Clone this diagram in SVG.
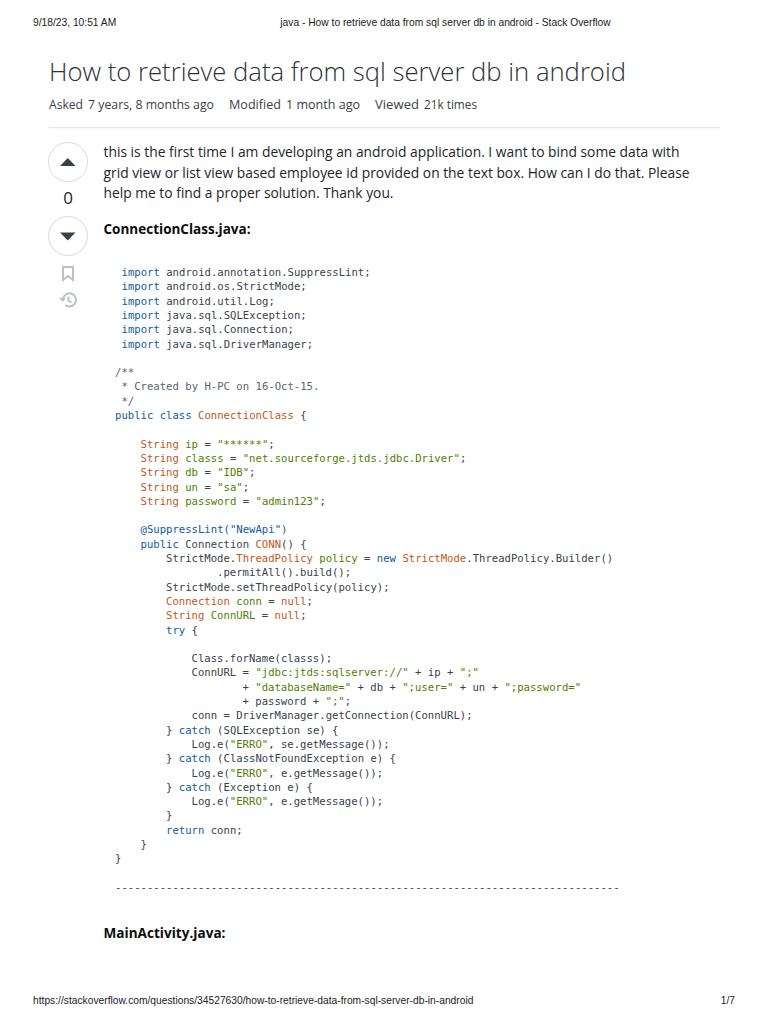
<svg xmlns="http://www.w3.org/2000/svg" width="768" height="1024" viewBox="0 0 768 1024">
<style>
.hf{font:10.25px "Liberation Sans",Arial,sans-serif;fill:#222}
.ui{font-family:"Open Sans","Noto Sans",sans-serif}
.title{font-size:25.6px;font-weight:300;fill:#2d3236}
.meta{font-size:12.6px;fill:#3b4045}
.body{font-size:13.6px;fill:#232629}
.bold{font-size:13.8px;font-weight:700;fill:#0c0d0e}
.c{font-family:"DejaVu Sans Mono","Liberation Mono",monospace;font-size:10.62px;fill:#39424a;white-space:pre}
.k{fill:#0f5c9e}.t{fill:#c2571a}.s{fill:#4f7f00}.n{fill:#39424a}.a{fill:#5a6570}
.ring{fill:#fff;stroke:#d6d9dc;stroke-width:1}
.ic{fill:#3b4045}
.g{fill:none;stroke:#bbc0c4;stroke-width:2}
</style>
<rect width="768" height="1024" fill="#fff"/>
<g id="page-header">
<text class="hf" x="33" y="26">9/18/23, 10:51 AM</text>
<text class="hf" x="445.500" y="26" text-anchor="middle">java - How to retrieve data from sql server db in android - Stack Overflow</text>
</g>
<g id="question-head">
<text class="ui title" x="49" y="81" textLength="577" lengthAdjust="spacingAndGlyphs">How to retrieve data from sql server db in android</text>
<text class="ui meta" x="49" y="109" textLength="34" lengthAdjust="spacingAndGlyphs">Asked</text>
<text class="ui meta" x="88" y="109" textLength="126" lengthAdjust="spacingAndGlyphs">7 years, 8 months ago</text>
<text class="ui meta" x="229" y="109" textLength="52" lengthAdjust="spacingAndGlyphs">Modified</text>
<text class="ui meta" x="286" y="109" textLength="74" lengthAdjust="spacingAndGlyphs">1 month ago</text>
<text class="ui meta" x="375" y="109" textLength="44" lengthAdjust="spacingAndGlyphs">Viewed</text>
<text class="ui meta" x="424" y="109" textLength="53" lengthAdjust="spacingAndGlyphs">21k times</text>
<rect x="49" y="127" width="671" height="1.2" fill="#e4e6e8"/>
</g>
<g id="vote-controls">
<circle class="ring" cx="68" cy="162" r="19.5"/>
<path class="ic" d="M60 166h15.5l-7.75-8z"/>
<text class="ui" x="68" y="204" text-anchor="middle" font-size="17" fill="#232629">0</text>
<circle class="ring" cx="68" cy="236" r="19.5"/>
<path class="ic" d="M60 232.500h15.500l-7.750 8z"/>
<path class="g" d="M63 267h10v13l-5-4-5 4z"/>
<path class="g" d="M63 299.500a6.500 6.500 0 1 1 2.500 5.500M68.500 296.500v4l3 2"/>
<path d="M59 298h7l-3.500 4z" fill="#bbc0c4"/>
</g>
<g id="question-text">
<text class="ui body" x="103.500" y="157" textLength="576" lengthAdjust="spacingAndGlyphs">this is the first time I am developing an android application. I want to bind some data with</text>
<text class="ui body" x="103.500" y="177.500" textLength="586" lengthAdjust="spacingAndGlyphs">grid view or list view based employee id provided on the text box. How can I do that. Please</text>
<text class="ui body" x="103.500" y="198" textLength="290" lengthAdjust="spacingAndGlyphs">help me to find a proper solution. Thank you.</text>
<text class="ui bold" x="103.500" y="234" textLength="147" lengthAdjust="spacingAndGlyphs">ConnectionClass.java:</text>
<text class="ui bold" x="103.500" y="937.500" textLength="122" lengthAdjust="spacingAndGlyphs">MainActivity.java:</text>
</g>
<g id="code">
<text class="c" x="121.500" y="276"><tspan class="k">import</tspan> android.annotation.SuppressLint;</text>
<text class="c" x="121.500" y="290.300"><tspan class="k">import</tspan> android.os.StrictMode;</text>
<text class="c" x="121.500" y="304.600"><tspan class="k">import</tspan> android.util.Log;</text>
<text class="c" x="121.500" y="318.900"><tspan class="k">import</tspan> java.sql.SQLException;</text>
<text class="c" x="121.500" y="333.200"><tspan class="k">import</tspan> java.sql.Connection;</text>
<text class="c" x="121.500" y="347.500"><tspan class="k">import</tspan> java.sql.DriverManager;</text>
<text class="c a" x="115" y="376.100">/**</text>
<text class="c a" x="115" y="390.400"> * Created by H-PC on 16-Oct-15.</text>
<text class="c a" x="115" y="404.700"> */</text>
<text class="c" x="115" y="419"><tspan class="k">public class</tspan> <tspan class="t">ConnectionClass</tspan> {</text>
<text class="c" x="140.500" y="447.600"><tspan class="t">String</tspan> <tspan class="s">ip</tspan> = <tspan class="s">"******"</tspan>;</text>
<text class="c" x="140.500" y="461.900"><tspan class="t">String</tspan> <tspan class="s">classs</tspan> = <tspan class="s">"net.sourceforge.jtds.jdbc.Driver"</tspan>;</text>
<text class="c" x="140.500" y="476.200"><tspan class="t">String</tspan> <tspan class="s">db</tspan> = <tspan class="s">"IDB"</tspan>;</text>
<text class="c" x="140.500" y="490.500"><tspan class="t">String</tspan> <tspan class="s">un</tspan> = <tspan class="s">"sa"</tspan>;</text>
<text class="c" x="140.500" y="504.800"><tspan class="t">String</tspan> <tspan class="s">password</tspan> = <tspan class="s">"admin123"</tspan>;</text>
<text class="c k" x="140.500" y="533.400">@SuppressLint(<tspan class="k">"NewApi"</tspan>)</text>
<text class="c" x="140.500" y="547.700"><tspan class="k">public</tspan> Connection <tspan class="t">CONN</tspan>() {</text>
<text class="c" x="166" y="562">StrictMode.<tspan class="t">ThreadPolicy</tspan> <tspan class="s">policy</tspan> = <tspan class="k">new</tspan> <tspan class="t">StrictMode</tspan>.ThreadPolicy.Builder()</text>
<text class="c" x="217" y="576.300">.permitAll().build();</text>
<text class="c" x="166" y="590.600">StrictMode.setThreadPolicy(policy);</text>
<text class="c" x="166" y="604.900"><tspan class="t">Connection</tspan> <tspan class="s">conn</tspan> = <tspan class="t">null</tspan>;</text>
<text class="c" x="166" y="619.200"><tspan class="t">String</tspan> <tspan class="s">ConnURL</tspan> = <tspan class="t">null</tspan>;</text>
<text class="c" x="166" y="633.500"><tspan class="k">try</tspan> {</text>
<text class="c" x="191.500" y="662.100">Class.forName(classs);</text>
<text class="c" x="191.500" y="676.400">ConnURL = <tspan class="s">"jdbc:jtds:sqlserver://"</tspan> + ip + <tspan class="s">";"</tspan></text>
<text class="c" x="242.500" y="690.700">+ <tspan class="s">"databaseName="</tspan> + db + <tspan class="s">";user="</tspan> + un + <tspan class="s">";password="</tspan></text>
<text class="c" x="242.500" y="705">+ password + <tspan class="s">";"</tspan>;</text>
<text class="c" x="191.500" y="719.300">conn = DriverManager.getConnection(ConnURL);</text>
<text class="c" x="166" y="733.600">} <tspan class="k">catch</tspan> (SQLException se) {</text>
<text class="c" x="191.500" y="747.900">Log.e(<tspan class="s">"ERRO"</tspan>, se.getMessage());</text>
<text class="c" x="166" y="762.200">} <tspan class="k">catch</tspan> (ClassNotFoundException e) {</text>
<text class="c" x="191.500" y="776.500">Log.e(<tspan class="s">"ERRO"</tspan>, e.getMessage());</text>
<text class="c" x="166" y="790.800">} <tspan class="k">catch</tspan> (Exception e) {</text>
<text class="c" x="191.500" y="805.100">Log.e(<tspan class="s">"ERRO"</tspan>, e.getMessage());</text>
<text class="c" x="166" y="819.400">}</text>
<text class="c" x="166" y="833.700"><tspan class="k">return</tspan> conn;</text>
<text class="c" x="140.500" y="848">}</text>
<text class="c" x="115" y="862.300">}</text>
<text class="c" x="115" y="890.900">-------------------------------------------------------------------------------</text>
</g>
<g id="page-footer">
<text class="hf" x="33" y="1004">https://stackoverflow.com/questions/34527630/how-to-retrieve-data-from-sql-server-db-in-android</text>
<text class="hf" x="735" y="1004" text-anchor="end">1/7</text>
</g>
</svg>
